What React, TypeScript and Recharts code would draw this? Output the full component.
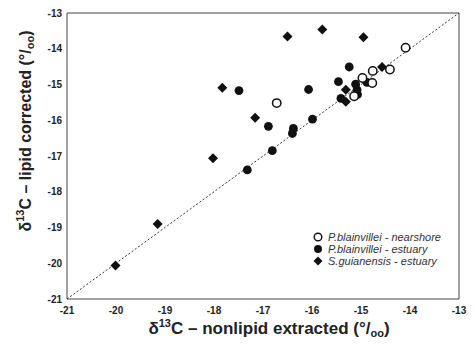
import React from 'react';
import { ScatterChart, Scatter, XAxis, YAxis, ReferenceLine, ReferenceArea, Legend } from 'recharts';

const FONT = '"Liberation Sans", Arial, sans-serif';

// axis ticks (same for both axes)
const axisTicks = [-21, -20, -19, -18, -17, -16, -15, -14, -13];

// P.blainvillei - nearshore (open circles)
const nearshoreX = [-16.72, -14.09, -14.41, -14.76, -14.97, -14.77, -15.14];
const nearshoreY = [-15.52, -13.97, -14.58, -14.62, -14.82, -14.96, -15.33];

// P.blainvillei - estuary (filled circles)
const pbEstuaryX = [-17.49, -16.07, -15.24, -15.46, -15.11, -14.88, -15.08, -15.41, -15.07, -15.99, -16.89, -16.38, -16.40, -16.81, -17.32];
const pbEstuaryY = [-15.17, -15.14, -14.51, -14.92, -14.99, -14.94, -15.15, -15.39, -15.28, -15.97, -16.17, -16.23, -16.37, -16.85, -17.39];

// S.guianensis - estuary (diamonds)
const sgEstuaryX = [-16.50, -15.79, -14.95, -14.57, -17.83, -15.31, -15.31, -17.16, -18.02, -19.15, -20.01];
const sgEstuaryY = [-13.66, -13.46, -13.68, -14.51, -15.09, -15.15, -15.48, -15.93, -17.06, -18.90, -20.06];

const seriesNames = ['P.blainvillei - nearshore', 'P.blainvillei - estuary', 'S.guianensis - estuary'];

const toPoints = (xs: number[], ys: number[]) => xs.map((x, i) => ({ x, y: ys[i] }));

const nearshore = toPoints(nearshoreX, nearshoreY);
const pbEstuary = toPoints(pbEstuaryX, pbEstuaryY);
const sgEstuary = toPoints(sgEstuaryX, sgEstuaryY);

const OpenDot = (p: any) => (
  <circle cx={p.cx} cy={p.cy} r={4.2} fill="#fff" stroke="#111" strokeWidth={1.5} />
);
const FilledDot = (p: any) => <circle cx={p.cx} cy={p.cy} r={4.4} fill="#111" />;
const Diamond = (p: any) => {
  const r = 5;
  return (
    <polygon
      points={`${p.cx},${p.cy - r} ${p.cx + r},${p.cy} ${p.cx},${p.cy + r} ${p.cx - r},${p.cy}`}
      fill="#111"
    />
  );
};

const LegendBox = () => {
  const markers = [
    <circle cx={5} cy={5} r={3.8} fill="#fff" stroke="#111" strokeWidth={1.4} />,
    <circle cx={5} cy={5} r={4} fill="#111" />,
    <polygon points="5,0.5 9.5,5 5,9.5 0.5,5" fill="#111" />,
  ];
  return (
    <div style={{ fontFamily: FONT, fontSize: 11, fontStyle: 'italic', color: '#333' }}>
      {seriesNames.map((name, i) => (
        <div key={name} style={{ display: 'flex', alignItems: 'center', height: 12 }}>
          <svg width={10} height={10} style={{ marginRight: 5 }}>{markers[i]}</svg>
          <span>{name}</span>
        </div>
      ))}
    </div>
  );
};

const tickStyle = { fontSize: 10, fontWeight: 'bold', fill: '#222', fontFamily: FONT };

const titleStyle: React.CSSProperties = {
  position: 'absolute', whiteSpace: 'pre', fontFamily: FONT, fontSize: 17, fontWeight: 'bold',
  color: '#222', lineHeight: '20px',
};

export default function App() {
  return (
    <div style={{ position: 'relative', width: 474, height: 354, background: '#fff' }}>
      <style>{'body{margin:0}'}</style>
      <ScatterChart width={474} height={354} margin={{ top: 13, right: 15, bottom: 0, left: 0 }}>
        <XAxis
          type="number"
          dataKey="x"
          domain={[-21, -13]}
          ticks={axisTicks}
          interval={0}
          allowDataOverflow
          height={55}
          axisLine={false}
          tickLine={false}
          tickSize={0}
          tickMargin={8}
          tick={tickStyle}
        />
        <YAxis
          type="number"
          dataKey="y"
          domain={[-21, -13]}
          ticks={axisTicks}
          interval={0}
          allowDataOverflow
          width={67}
          axisLine={false}
          tickLine={false}
          tickSize={0}
          tickMargin={5}
          tick={tickStyle}
        />
        <ReferenceArea x1={-21} x2={-13} y1={-21} y2={-13} fill="none" stroke="#444" strokeWidth={1} />
        <ReferenceLine
          segment={[{ x: -21, y: -21 }, { x: -13, y: -13 }]}
          stroke="#333"
          strokeWidth={1}
          strokeDasharray="2 2"
        />
        <Scatter name={seriesNames[2]} data={sgEstuary} shape={Diamond} isAnimationActive={false} />
        <Scatter name={seriesNames[1]} data={pbEstuary} shape={FilledDot} isAnimationActive={false} />
        <Scatter name={seriesNames[0]} data={nearshore} shape={OpenDot} isAnimationActive={false} />
        <Legend
          layout="vertical"
          align="center"
          verticalAlign="middle"
          content={<LegendBox />}
          wrapperStyle={{ left: 313, top: 231, width: 150 }}
        />
      </ScatterChart>
      <div style={{ ...titleStyle, left: 269, top: 319, transform: 'translateX(-50%)' }}>
        δ<span style={{ fontSize: 11, position: 'relative', top: -7 }}>13</span>C – nonlipid extracted (°/<span style={{ fontSize: 11, position: 'relative', top: 3 }}>oo</span>)
      </div>
      <div style={{ ...titleStyle, fontSize: 16, left: 26, top: 131, transform: 'translate(-50%, -50%) rotate(-90deg)' }}>
        δ<span style={{ fontSize: 11, position: 'relative', top: -7 }}>13</span>C – lipid corrected (°/<span style={{ fontSize: 11, position: 'relative', top: 3 }}>oo</span>)
      </div>
    </div>
  );
}
